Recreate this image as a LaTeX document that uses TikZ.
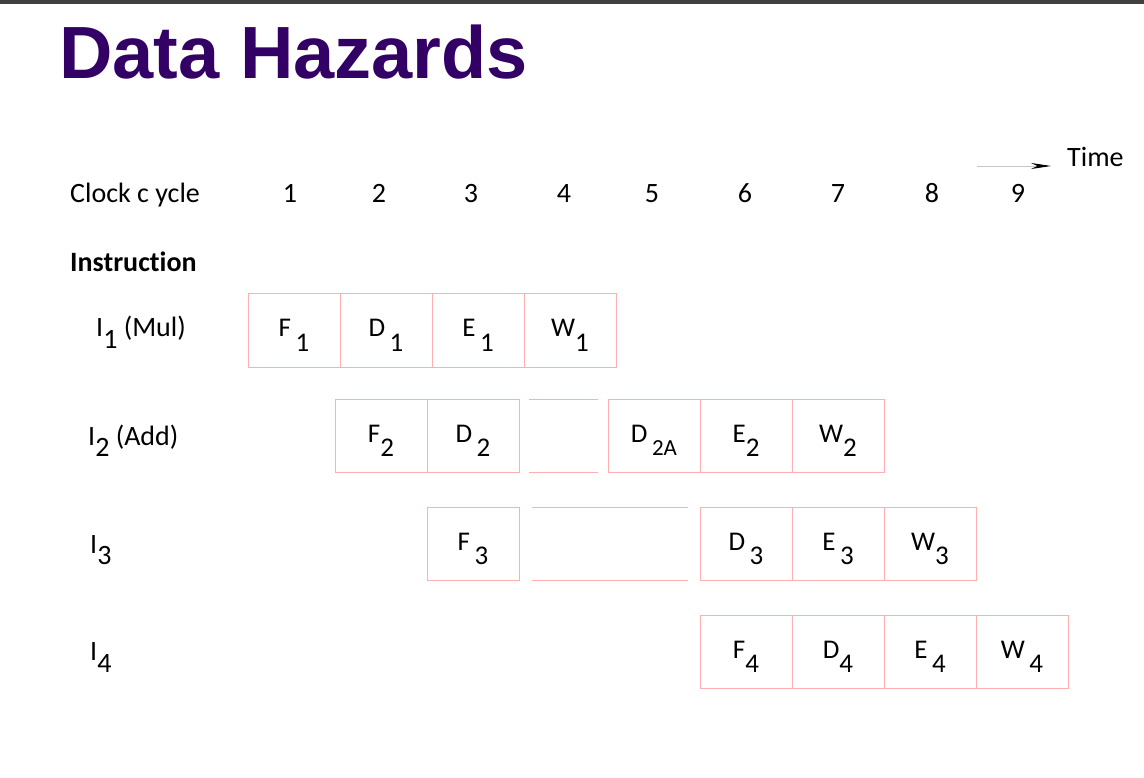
\documentclass[tikz,border=0pt]{standalone}
\usepackage{fontspec}
\setmainfont{Carlito}[Ligatures={NoCommon,NoRare}]
\newfontfamily\titlefont{Liberation Sans}
\usepackage{xcolor}
\usetikzlibrary{positioning,arrows.meta}

\definecolor{titlepurple}{RGB}{51,0,102}
\definecolor{cellpink}{RGB}{255,175,175}
\definecolor{bargray}{RGB}{64,64,64}

% lowered index as on the slide
\newcommand{\lo}[1]{\raisebox{-14pt}{#1}}

\tikzset{
  stage/.style={draw=cellpink, line width=1pt, minimum width=92pt, minimum height=73pt,
    inner sep=0pt, outer sep=0pt, text height=22pt, text depth=9pt, anchor=west,
    font=\fontsize{27}{27}\selectfont},
  gap/.style={minimum height=73pt, inner sep=0pt, outer sep=0pt, anchor=west},
  rowlabel/.style={anchor=base west, inner sep=0pt, font=\fontsize{28}{28}\selectfont},
  head/.style={inner sep=0pt, font=\fontsize{28}{28}\selectfont}
}

\begin{document}
\begin{tikzpicture}[x=1pt,y=-1pt]
    \useasboundingbox[fill=white] (0,0) rectangle (1144,778);
    \fill[bargray] (0,0) rectangle (1144,4);

    % Title
    \node[anchor=base west, inner sep=0pt, text=titlepurple,
          font=\titlefont\bfseries\fontsize{74}{74}\selectfont] (title) at (59,79) {Data Hazards};

    % Clock cycles
    \node[head, anchor=base west] (clock) at (70,203) {Clock c ycle};
    \foreach \n/\x in {1/290,2/379,3/471,4/564,5/652,6/745,7/838,8/932,9/1018}
        \node[head, anchor=base] (c\n) at (\x,203) {\n};
    \node[head, anchor=base west] (time) at (1067,167) {Time};
    \coordinate (t0) at (977,166);
    \coordinate (t1) at (1051,166);
    \draw[gray!45, line width=0.8pt, -{Stealth[length=20pt,width=6pt,black]}] (t0) -- (t1);

    \node[head, anchor=base west, font=\bfseries\fontsize{28}{28}\selectfont] (instr) at (70,272) {Instruction};

    % Instruction names
    \node[rowlabel] (i1) at (96,337) {I\raisebox{-12pt}{1} (Mul)};
    \node[rowlabel] (i2) at (88,445) {I\raisebox{-11pt}{2} (Add)};
    \node[rowlabel] (i3) at (90,553) {I\raisebox{-11pt}{3}};
    \node[rowlabel] (i4) at (90,660) {I\raisebox{-12pt}{4}};

    % I1
    \node[stage] (f1) at (248,330.5) {F\,\lo{1}};
    \node[stage, right=0pt of f1] (d1) {D\,\lo{1}};
    \node[stage, right=0pt of d1] (e1) {E\,\lo{1}};
    \node[stage, right=0pt of e1] (w1) {W\lo{1}};

    % I2
    \node[stage] (f2) at (335,435.5) {F\lo{2}};
    \node[stage, right=0pt of f2] (d2) {D\,\lo{2}};
    \node[gap, minimum width=69pt] (s2) at (529,435.5) {};
    \node[stage] (d2a) at (608,435.5) {D\,\raisebox{-13pt}{\fontsize{23}{23}\selectfont 2A}};
    \node[stage, right=0pt of d2a] (e2) {E\lo{2}};
    \node[stage, right=0pt of e2] (w2) {W\lo{2}};
    \draw[cellpink, line width=1pt] (s2.north west) -- (s2.north east) (s2.south west) -- (s2.south east);

    % I3
    \node[stage] (f3) at (427,544) {F\,\lo{3}};
    \node[gap, minimum width=156pt] (s3) at (532,544) {};
    \node[stage] (d3) at (700,544) {D\,\lo{3}};
    \node[stage, right=0pt of d3] (e3) {E\,\lo{3}};
    \node[stage, right=0pt of e3] (w3) {W\lo{3}};
    \draw[cellpink, line width=1pt] (s3.north west) -- (s3.north east) (s3.south west) -- (s3.south east);

    % I4
    \node[stage] (f4) at (700,651.5) {F\lo{4}};
    \node[stage, right=0pt of f4] (d4) {D\lo{4}};
    \node[stage, right=0pt of d4] (e4) {E\,\lo{4}};
    \node[stage, right=0pt of e4] (w4) {W\,\lo{4}};
\end{tikzpicture}
\end{document}
